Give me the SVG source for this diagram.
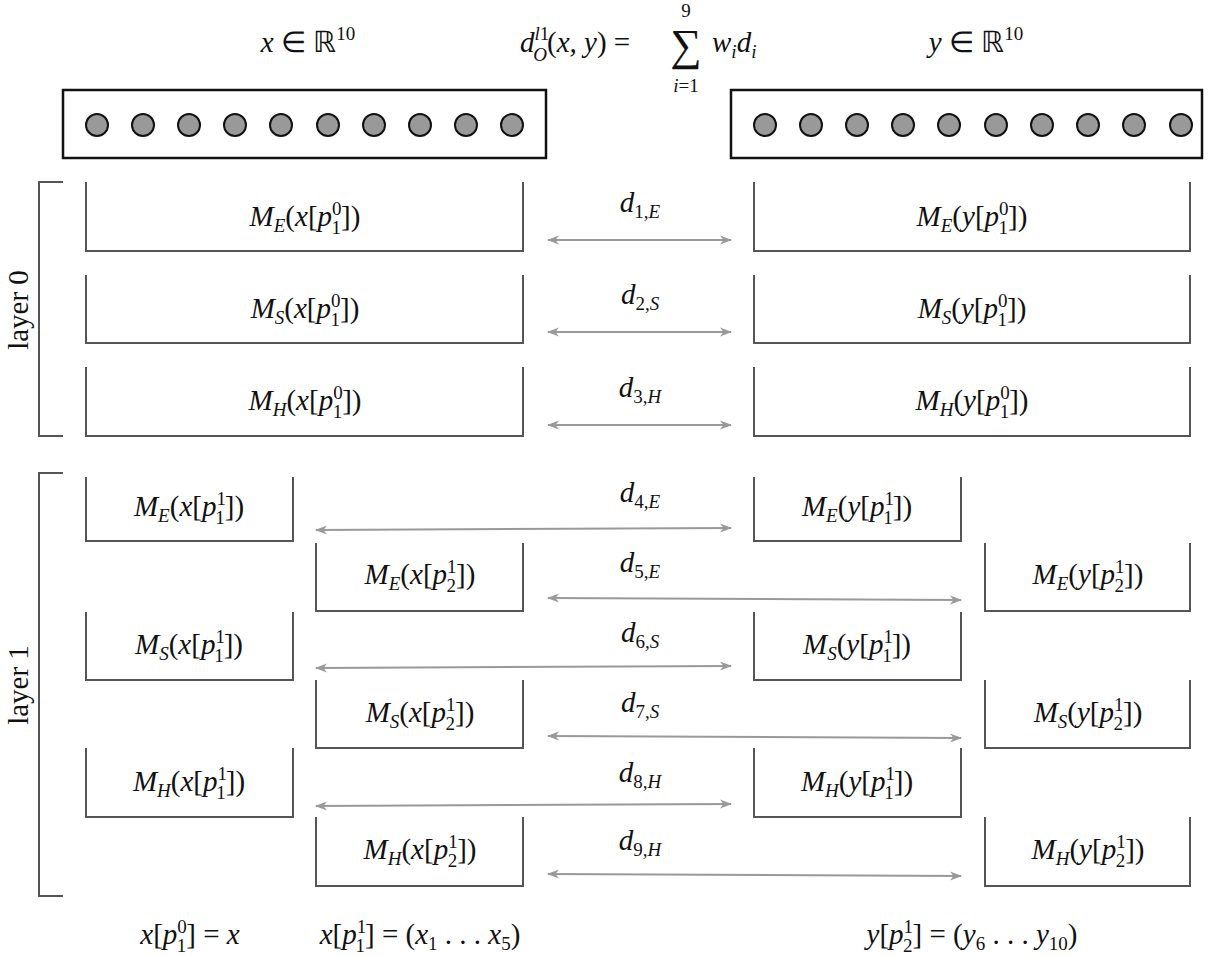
<svg xmlns="http://www.w3.org/2000/svg" width="1219" height="956" viewBox="0 0 1219 956">
<defs>
<marker id="ah" viewBox="0 0 12 10" refX="11" refY="5" markerWidth="12" markerHeight="10" orient="auto-start-reverse" markerUnits="userSpaceOnUse"><path d="M0,0.5 L12,5 L0,9.5 L3.5,5 z" fill="#999"/></marker>
</defs>
<style>
.t{font-family:"Liberation Serif",serif;font-size:29px;fill:#111;text-anchor:middle}
.i{font-style:italic}
.s{font-size:19px}
.b{fill:none;stroke:#555;stroke-width:2}
.a{stroke:#999;stroke-width:2;fill:none;marker-start:url(#ah);marker-end:url(#ah)}
.c{fill:#999;stroke:#111;stroke-width:2}
</style>
<rect width="1219" height="956" fill="#fff"/>
<g id="header" class="t">
<text x="308" y="52"><tspan class="i">x</tspan> ∈ ℝ<tspan class="s" dy="-12">10</tspan></text>
<text x="976" y="52"><tspan class="i">y</tspan> ∈ ℝ<tspan class="s" dy="-12">10</tspan></text>
<text x="520" y="52" text-anchor="start"><tspan class="i">d</tspan><tspan class="s i" dy="-12">l</tspan><tspan class="s">1</tspan><tspan class="s i" dx="-16" dy="21">O</tspan><tspan dy="-9">(</tspan><tspan class="i">x, y</tspan>) =</text>
<text x="686" y="60" style="font-size:44px">∑</text>
<text x="686" y="17" class="s">9</text>
<text x="686" y="92" class="s"><tspan class="i">i</tspan>=1</text>
<text x="712" y="52" text-anchor="start"><tspan class="i">w</tspan><tspan class="s i" dy="6">i</tspan><tspan class="i" dy="-6">d</tspan><tspan class="s i" dy="6">i</tspan></text>
</g>
<g id="xin"><rect x="63" y="90" width="483" height="68" fill="none" stroke="#111" stroke-width="2.5"/>
<circle class="c" cx="97" cy="125" r="11"/><circle class="c" cx="143" cy="125" r="11"/><circle class="c" cx="189" cy="125" r="11"/><circle class="c" cx="235" cy="125" r="11"/><circle class="c" cx="281" cy="125" r="11"/><circle class="c" cx="328" cy="125" r="11"/><circle class="c" cx="374" cy="125" r="11"/><circle class="c" cx="420" cy="125" r="11"/><circle class="c" cx="466" cy="125" r="11"/><circle class="c" cx="512" cy="125" r="11"/></g>
<g id="yin"><rect x="731" y="90" width="471" height="68" fill="none" stroke="#111" stroke-width="2.5"/>
<circle class="c" cx="765" cy="125" r="11"/><circle class="c" cx="811" cy="125" r="11"/><circle class="c" cx="857" cy="125" r="11"/><circle class="c" cx="903" cy="125" r="11"/><circle class="c" cx="949" cy="125" r="11"/><circle class="c" cx="996" cy="125" r="11"/><circle class="c" cx="1042" cy="125" r="11"/><circle class="c" cx="1088" cy="125" r="11"/><circle class="c" cx="1134" cy="125" r="11"/><circle class="c" cx="1181" cy="125" r="11"/></g>
<g id="brackets">
<path class="b" d="M63,182 H39 V436 H63"/><path class="b" d="M63,473 H39 V896 H63"/>
<text class="t" transform="translate(28,310) rotate(-90)">layer 0</text>
<text class="t" transform="translate(28,685) rotate(-90)">layer 1</text>
</g>
<g id="l0" class="t">
<path class="b" d="M86,182 V251 H523 V182"/><text x="305" y="226"><tspan class="i">M</tspan><tspan class="s i" dy="6">E</tspan><tspan dy="-6">(</tspan><tspan class="i">x</tspan>[<tspan class="i">p</tspan><tspan class="s" dy="-11">0</tspan><tspan class="s" dx="-10" dy="19">1</tspan><tspan dy="-8">])</tspan></text>
<path class="b" d="M754,182 V251 H1190 V182"/><text x="972" y="226"><tspan class="i">M</tspan><tspan class="s i" dy="6">E</tspan><tspan dy="-6">(</tspan><tspan class="i">y</tspan>[<tspan class="i">p</tspan><tspan class="s" dy="-11">0</tspan><tspan class="s" dx="-10" dy="19">1</tspan><tspan dy="-8">])</tspan></text>
<path class="b" d="M86,275 V343 H523 V275"/><text x="305" y="318"><tspan class="i">M</tspan><tspan class="s i" dy="6">S</tspan><tspan dy="-6">(</tspan><tspan class="i">x</tspan>[<tspan class="i">p</tspan><tspan class="s" dy="-11">0</tspan><tspan class="s" dx="-10" dy="19">1</tspan><tspan dy="-8">])</tspan></text>
<path class="b" d="M754,275 V343 H1190 V275"/><text x="972" y="318"><tspan class="i">M</tspan><tspan class="s i" dy="6">S</tspan><tspan dy="-6">(</tspan><tspan class="i">y</tspan>[<tspan class="i">p</tspan><tspan class="s" dy="-11">0</tspan><tspan class="s" dx="-10" dy="19">1</tspan><tspan dy="-8">])</tspan></text>
<path class="b" d="M86,367 V436 H523 V367"/><text x="305" y="410"><tspan class="i">M</tspan><tspan class="s i" dy="6">H</tspan><tspan dy="-6">(</tspan><tspan class="i">x</tspan>[<tspan class="i">p</tspan><tspan class="s" dy="-11">0</tspan><tspan class="s" dx="-10" dy="19">1</tspan><tspan dy="-8">])</tspan></text>
<path class="b" d="M754,367 V436 H1190 V367"/><text x="972" y="410"><tspan class="i">M</tspan><tspan class="s i" dy="6">H</tspan><tspan dy="-6">(</tspan><tspan class="i">y</tspan>[<tspan class="i">p</tspan><tspan class="s" dy="-11">0</tspan><tspan class="s" dx="-10" dy="19">1</tspan><tspan dy="-8">])</tspan></text>
</g>
<g id="l1" class="t">
<path class="b" d="M86,477 V541 H293 V477"/><text x="189" y="516"><tspan class="i">M</tspan><tspan class="s i" dy="6">E</tspan><tspan dy="-6">(</tspan><tspan class="i">x</tspan>[<tspan class="i">p</tspan><tspan class="s" dy="-11">1</tspan><tspan class="s" dx="-10" dy="19">1</tspan><tspan dy="-8">])</tspan></text>
<path class="b" d="M754,477 V541 H961 V477"/><text x="857" y="516"><tspan class="i">M</tspan><tspan class="s i" dy="6">E</tspan><tspan dy="-6">(</tspan><tspan class="i">y</tspan>[<tspan class="i">p</tspan><tspan class="s" dy="-11">1</tspan><tspan class="s" dx="-10" dy="19">1</tspan><tspan dy="-8">])</tspan></text>
<path class="b" d="M316,543 V611 H523 V543"/><text x="420" y="584"><tspan class="i">M</tspan><tspan class="s i" dy="6">E</tspan><tspan dy="-6">(</tspan><tspan class="i">x</tspan>[<tspan class="i">p</tspan><tspan class="s" dy="-11">1</tspan><tspan class="s" dx="-10" dy="19">2</tspan><tspan dy="-8">])</tspan></text>
<path class="b" d="M985,543 V611 H1190 V543"/><text x="1088" y="584"><tspan class="i">M</tspan><tspan class="s i" dy="6">E</tspan><tspan dy="-6">(</tspan><tspan class="i">y</tspan>[<tspan class="i">p</tspan><tspan class="s" dy="-11">1</tspan><tspan class="s" dx="-10" dy="19">2</tspan><tspan dy="-8">])</tspan></text>
<path class="b" d="M86,612 V680 H293 V612"/><text x="189" y="654"><tspan class="i">M</tspan><tspan class="s i" dy="6">S</tspan><tspan dy="-6">(</tspan><tspan class="i">x</tspan>[<tspan class="i">p</tspan><tspan class="s" dy="-11">1</tspan><tspan class="s" dx="-10" dy="19">1</tspan><tspan dy="-8">])</tspan></text>
<path class="b" d="M754,612 V680 H961 V612"/><text x="857" y="654"><tspan class="i">M</tspan><tspan class="s i" dy="6">S</tspan><tspan dy="-6">(</tspan><tspan class="i">y</tspan>[<tspan class="i">p</tspan><tspan class="s" dy="-11">1</tspan><tspan class="s" dx="-10" dy="19">1</tspan><tspan dy="-8">])</tspan></text>
<path class="b" d="M316,680 V748 H523 V680"/><text x="420" y="722"><tspan class="i">M</tspan><tspan class="s i" dy="6">S</tspan><tspan dy="-6">(</tspan><tspan class="i">x</tspan>[<tspan class="i">p</tspan><tspan class="s" dy="-11">1</tspan><tspan class="s" dx="-10" dy="19">2</tspan><tspan dy="-8">])</tspan></text>
<path class="b" d="M985,680 V748 H1190 V680"/><text x="1088" y="722"><tspan class="i">M</tspan><tspan class="s i" dy="6">S</tspan><tspan dy="-6">(</tspan><tspan class="i">y</tspan>[<tspan class="i">p</tspan><tspan class="s" dy="-11">1</tspan><tspan class="s" dx="-10" dy="19">2</tspan><tspan dy="-8">])</tspan></text>
<path class="b" d="M86,748 V817 H293 V748"/><text x="189" y="791"><tspan class="i">M</tspan><tspan class="s i" dy="6">H</tspan><tspan dy="-6">(</tspan><tspan class="i">x</tspan>[<tspan class="i">p</tspan><tspan class="s" dy="-11">1</tspan><tspan class="s" dx="-10" dy="19">1</tspan><tspan dy="-8">])</tspan></text>
<path class="b" d="M754,748 V817 H961 V748"/><text x="857" y="791"><tspan class="i">M</tspan><tspan class="s i" dy="6">H</tspan><tspan dy="-6">(</tspan><tspan class="i">y</tspan>[<tspan class="i">p</tspan><tspan class="s" dy="-11">1</tspan><tspan class="s" dx="-10" dy="19">1</tspan><tspan dy="-8">])</tspan></text>
<path class="b" d="M316,817 V886 H523 V817"/><text x="420" y="859"><tspan class="i">M</tspan><tspan class="s i" dy="6">H</tspan><tspan dy="-6">(</tspan><tspan class="i">x</tspan>[<tspan class="i">p</tspan><tspan class="s" dy="-11">1</tspan><tspan class="s" dx="-10" dy="19">2</tspan><tspan dy="-8">])</tspan></text>
<path class="b" d="M985,817 V886 H1190 V817"/><text x="1088" y="859"><tspan class="i">M</tspan><tspan class="s i" dy="6">H</tspan><tspan dy="-6">(</tspan><tspan class="i">y</tspan>[<tspan class="i">p</tspan><tspan class="s" dy="-11">1</tspan><tspan class="s" dx="-10" dy="19">2</tspan><tspan dy="-8">])</tspan></text>
</g>
<g id="connectors">
<line class="a" x1="548" y1="240" x2="731" y2="240"/>
<line class="a" x1="548" y1="332" x2="731" y2="332"/>
<line class="a" x1="548" y1="425" x2="731" y2="425"/>
<line class="a" x1="316" y1="530" x2="731" y2="528"/>
<line class="a" x1="548" y1="598" x2="961" y2="600"/>
<line class="a" x1="316" y1="668" x2="731" y2="666"/>
<line class="a" x1="548" y1="736" x2="961" y2="738"/>
<line class="a" x1="316" y1="806" x2="731" y2="804"/>
<line class="a" x1="548" y1="874" x2="961" y2="876"/>
</g>
<g id="dlabels" class="t">
<text x="640" y="212"><tspan class="i">d</tspan><tspan class="s" dy="6">1,<tspan class="i">E</tspan></tspan></text>
<text x="640" y="304"><tspan class="i">d</tspan><tspan class="s" dy="6">2,<tspan class="i">S</tspan></tspan></text>
<text x="640" y="397"><tspan class="i">d</tspan><tspan class="s" dy="6">3,<tspan class="i">H</tspan></tspan></text>
<text x="640" y="502"><tspan class="i">d</tspan><tspan class="s" dy="6">4,<tspan class="i">E</tspan></tspan></text>
<text x="640" y="572"><tspan class="i">d</tspan><tspan class="s" dy="6">5,<tspan class="i">E</tspan></tspan></text>
<text x="640" y="642"><tspan class="i">d</tspan><tspan class="s" dy="6">6,<tspan class="i">S</tspan></tspan></text>
<text x="640" y="712"><tspan class="i">d</tspan><tspan class="s" dy="6">7,<tspan class="i">S</tspan></tspan></text>
<text x="640" y="782"><tspan class="i">d</tspan><tspan class="s" dy="6">8,<tspan class="i">H</tspan></tspan></text>
<text x="640" y="850"><tspan class="i">d</tspan><tspan class="s" dy="6">9,<tspan class="i">H</tspan></tspan></text>
</g>
<g id="footer" class="t">
<text x="190" y="944"><tspan class="i">x</tspan>[<tspan class="i">p</tspan><tspan class="s" dy="-11">0</tspan><tspan class="s" dx="-10" dy="19">1</tspan><tspan dy="-8">] = </tspan><tspan class="i">x</tspan></text>
<text x="420" y="944"><tspan class="i">x</tspan>[<tspan class="i">p</tspan><tspan class="s" dy="-11">1</tspan><tspan class="s" dx="-10" dy="19">1</tspan><tspan dy="-8">] = (</tspan><tspan class="i">x</tspan><tspan class="s" dy="6">1</tspan><tspan dy="-6"> . . . </tspan><tspan class="i">x</tspan><tspan class="s" dy="6">5</tspan><tspan dy="-6">)</tspan></text>
<text x="972" y="944"><tspan class="i">y</tspan>[<tspan class="i">p</tspan><tspan class="s" dy="-11">1</tspan><tspan class="s" dx="-10" dy="19">2</tspan><tspan dy="-8">] = (</tspan><tspan class="i">y</tspan><tspan class="s" dy="6">6</tspan><tspan dy="-6"> . . . </tspan><tspan class="i">y</tspan><tspan class="s" dy="6">10</tspan><tspan dy="-6">)</tspan></text>
</g>
</svg>
